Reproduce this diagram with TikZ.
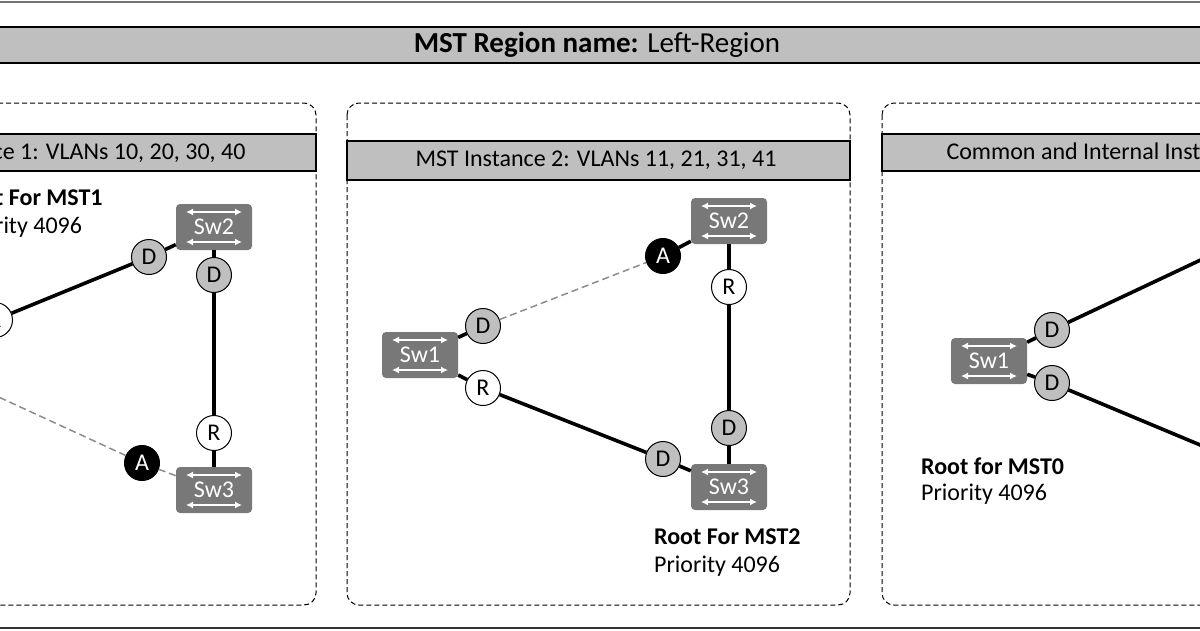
\documentclass[tikz,border=0pt]{standalone}
\usepackage{fontspec}
\setmainfont{Carlito}
\usetikzlibrary{arrows.meta}
\begin{document}
\begin{tikzpicture}[x=1pt,y=-1pt,
  sw/.style={draw=none,fill=black!53,rounded corners=4pt,minimum width=76pt,minimum height=46pt,text=white,font=\fontsize{24}{24}\selectfont,inner sep=0pt},
  port/.style={circle,draw=black,line width=1pt,minimum size=35pt,inner sep=0pt,font=\fontsize{24}{24}\selectfont},
  D/.style={port,fill=black!25},
  R/.style={port,fill=white},
  A/.style={port,fill=black,text=white},
  link/.style={line width=3.6pt},
  blk/.style={line width=1.5pt,draw=black!45,dash pattern=on 7pt off 4pt},
  panel/.style={draw,dash pattern=on 5pt off 3pt,line width=1pt,rounded corners=12pt},
  bar/.style={draw,fill=black!25,line width=1.2pt},
  hd/.style={font=\fontsize{24}{24}\selectfont},
  note/.style={font=\fontsize{24}{28}\selectfont,anchor=west,inner sep=0pt}]
\useasboundingbox (0,0) rectangle (1200,630);
\begin{scope}
\clip (0,0) rectangle (1200,630);
\draw[black!55,line width=1.5pt] (-5,2) -- (1205,2);
\draw[black!80,line width=1.5pt] (-5,628) -- (1205,628);
\draw[bar] (-5,27) rectangle (1205,63);
\node[font=\fontsize{29}{29}\selectfont] (title) at (597,45) {\textbf{MST Region name:} Left-Region};
% panels
\draw[panel] (-187,103) rectangle (316,605);
\draw[panel] (347,103) rectangle (850,605);
\draw[panel] (882,103) rectangle (1385,605);
\draw[bar] (-187,134) rectangle (316,171);
\draw[bar] (347,141) rectangle (850,180);
\draw[bar] (882,134) rectangle (1385,171);
\node[hd] (h1) at (65,153) {MST Instance 1: VLANs 10, 20, 30, 40};
\node[hd] (h2) at (596,160) {MST Instance 2: VLANs 11, 21, 31, 41};
\node[hd,anchor=west] (h3) at (943,152) {Common and Internal Instance (CIST)};
\tikzset{swpic/.pic={
  \draw[white,line width=1.6pt,{Latex[length=7pt,width=7pt]}-{Latex[length=7pt,width=7pt]}] (-28,-15) -- (28,-15);
  \draw[white,line width=1.6pt,{Latex[length=7pt,width=7pt]}-{Latex[length=7pt,width=7pt]}] (-28,15) -- (28,15);}}
% ---- panel 1
\node[sw] (a2) at (214,227) {Sw2}; \pic at (214,227) {swpic};
\node[sw] (a3) at (214,490) {Sw3}; \pic at (214,490) {swpic};
\coordinate (a1) at (-60,370);
\node[D] (a2d1) at (149,257) {D};
\node[D] (a2d2) at (214,275) {D};
\node[R] (a3r) at (214,433) {R};
\node[A] (a3a) at (142,463) {A};
\node[R] (a1r) at (-5,320) {R};
\draw[link] (a2) -- (a2d1); \draw[link] (a2d1) -- (a1r);
\draw[link] (a2) -- (a2d2); \draw[link] (a2d2) -- (a3r); \draw[link] (a3r) -- (a3);
\draw[blk] (a3a) -- (a1); \draw[blk] (a3a) -- (a3);
\node[note] (t1) at (-44,198) {\textbf{Root For MST1}};
\node[note] (p1) at (-44,227) {Priority 4096};
% ---- panel 2
\node[sw] (b1) at (420,355) {Sw1};
\node[sw] (b2) at (729,221) {Sw2};
\node[sw] (b3) at (729,487) {Sw3};
\node[D] (b1d) at (483,326) {D};
\node[R] (b1r) at (483,388) {R};
\node[A] (b2a) at (663,256) {A};
\node[R] (b2r) at (729,287) {R};
\node[D] (b3d1) at (729,428) {D};
\node[D] (b3d2) at (663,459) {D};
\draw[link] (b1) -- (b1d); \draw[blk] (b1d) -- (b2a); \draw[link] (b2a) -- (b2);
\draw[link] (b2) -- (b2r); \draw[link] (b2r) -- (b3d1); \draw[link] (b3d1) -- (b3);
\draw[link] (b1) -- (b1r); \draw[link] (b1r) -- (b3d2); \draw[link] (b3d2) -- (b3);
\pic at (420,355) {swpic}; \pic at (729,221) {swpic}; \pic at (729,487) {swpic};
\node[note] (t2) at (654,537) {\textbf{Root For MST2}};
\node[note] (p2) at (654,566) {Priority 4096};
% ---- panel 3
\node[sw] (c1) at (989,361) {Sw1}; \pic at (989,361) {swpic};
\node[D] (c1d1) at (1052,330) {D};
\node[D] (c1d2) at (1052,383) {D};
\coordinate (c2) at (1260,232);
\coordinate (c3) at (1260,470);
\draw[link] (c1) -- (c1d1); \draw[link] (c1d1) -- (c2);
\draw[link] (c1) -- (c1d2); \draw[link] (c1d2) -- (c3);
\node[note] (t3) at (921,466) {\textbf{Root for MST0}};
\node[note] (p3) at (921,494) {Priority 4096};
\end{scope}
\end{tikzpicture}
\end{document}
